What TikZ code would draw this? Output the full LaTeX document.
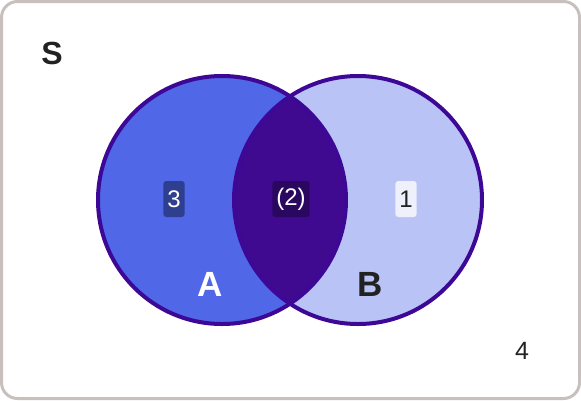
\documentclass[tikz,border=0pt]{standalone}
\usepackage{fontspec}
\setmainfont{Liberation Sans}
\usepackage{xcolor}
\usepackage{tikz}
\usetikzlibrary{positioning}
\definecolor{VennFrame}{RGB}{200,192,189}
\definecolor{VennEdge}{RGB}{62,8,150}
\definecolor{VennA}{RGB}{80,103,232}
\definecolor{VennB}{RGB}{186,195,245}
\definecolor{VennAB}{RGB}{63,10,143}
\definecolor{VennDark}{RGB}{34,34,34}
\tikzset{
  cnt/.style={rounded corners=3pt,minimum height=36pt,inner xsep=4pt,font=\fontsize{24}{24}\selectfont},
  setlbl/.style={font=\fontsize{35}{35}\selectfont\bfseries},
  ring/.style={draw=VennEdge,line width=4pt},
}
\begin{document}
\begin{tikzpicture}[x=1pt,y=-1pt]
  \useasboundingbox (0,0) rectangle (581,400);
  \draw[VennFrame,line width=3pt,fill=white,rounded corners=16pt] (1.5,1.5) rectangle (579.5,398.5);
  \coordinate (cA) at (222,200);
  \coordinate (cB) at (358,200);
  % sets
  \fill[VennA] (cA) circle[radius=124];
  \fill[VennB] (cB) circle[radius=124];
  \begin{scope}
    \clip (cA) circle[radius=124];
    \fill[VennAB] (cB) circle[radius=124];
  \end{scope}
  \draw[ring] (cA) circle[radius=124];
  \draw[ring] (cB) circle[radius=124];
  % counts
  \node[cnt,fill={rgb,255:red,47;green,63;blue,143},text=white] (nA) at (174,199) {3};
  \node[cnt,fill={rgb,255:red,42;green,8;blue,96},text=white] (nAB) at (291,199) {(2)};
  \node[cnt,fill={rgb,255:red,238;green,240;blue,251},text=VennDark] (nB) at (406,199) {1};
  \node[cnt,text=VennDark,fill=none,font=\fontsize{25}{25}\selectfont] (nS) at (522,351) {4};
  % labels
  \node[setlbl,text=white] (lA) at (210,284) {A};
  \node[setlbl,text=VennDark] (lB) at (370,284) {B};
  \node[setlbl,text=VennDark,font=\fontsize{32}{32}\selectfont\bfseries] (lS) at (52,53) {S};
\end{tikzpicture}
\end{document}
